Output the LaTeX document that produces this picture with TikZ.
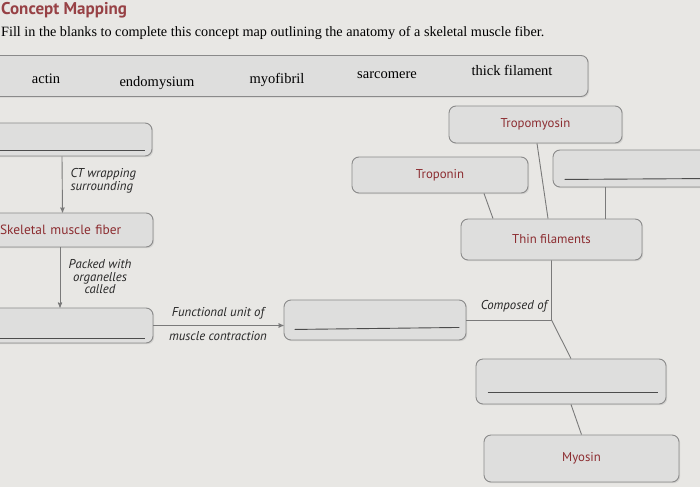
\documentclass[tikz,border=0pt]{standalone}
\usepackage{fontspec}
\setmainfont{Liberation Serif}
\setsansfont{PT Sans}
\usetikzlibrary{calc}
\usetikzlibrary{arrows}
\usetikzlibrary{shadows}

\definecolor{paper}{HTML}{E8E7E4}
\definecolor{boxfill}{HTML}{DEDEDD}
\definecolor{boxline}{HTML}{8A8A8A}
\definecolor{linkgray}{HTML}{7A7A7A}
\definecolor{labred}{HTML}{8C2C30}

\begin{document}
\begin{tikzpicture}[x=1pt,y=-1pt,
  mapbox/.style={draw=boxline, fill=boxfill, rounded corners=7pt, line width=0.9pt,
    drop shadow={opacity=.2, shadow xshift=1.2pt, shadow yshift=-1.2pt}},
  boxlabel/.style={font=\sffamily\fontsize{12.8}{14}\selectfont, text=labred},
  linklabel/.style={font=\sffamily\itshape\fontsize{12.8}{13.5}\selectfont, text=black!85},
  link/.style={draw=linkgray, line width=0.9pt},
  blankline/.style={draw=black!70, line width=0.9pt}]
\fill[paper] (0,0) rectangle (700,487);
\useasboundingbox (0,0) rectangle (700,487);

% heading
\node[anchor=west, inner xsep=0, font=\sffamily\bfseries\fontsize{17}{19}\selectfont, text=labred!90] (title) at (1,10) {Concept Mapping};
\node[anchor=west, inner xsep=0, font=\fontsize{14.2}{16}\selectfont] (task) at (1,33) {Fill in the blanks to complete this concept map outlining the anatomy of a skeletal muscle fiber.};

% word bank
\node[mapbox, minimum width=598, minimum height=41] (bank) at (289,76) {};
\foreach \w/\x/\y [count=\i] in {actin/46/79, endomysium/157/83, myofibril/277/80, sarcomere/387/75, thick filament/512/70}
  \node[font=\fontsize{14.5}{16}\selectfont] (word\i) at (\x,\y) {\w};

% left column
\node[mapbox, minimum width=162, minimum height=33] (blankA) at (71,139.5) {};
\draw[blankline] ([xshift=10,yshift=6]blankA.south west) -- ([xshift=-7,yshift=6]blankA.south east);
\node[mapbox, boxlabel, font=\sffamily\fontsize{13.4}{15}\selectfont, minimum width=163, minimum height=34, text width=143, inner xsep=10, align=left] (fiber) at (71.5,230) {Skeletal muscle fiber};
\node[mapbox, minimum width=163, minimum height=35] (blankC) at (71.5,325.5) {};
\draw[blankline] ([xshift=10,yshift=5]blankC.south west) -- ([xshift=-8,yshift=5]blankC.south east);

\draw[link, ->, >=stealth'] ([xshift=-9]blankA.south) -- ([xshift=-9]fiber.north);
\node[linklabel, anchor=north west, align=left] (wraplab) at (67,165) {CT wrapping\\[-1pt]surrounding};
\draw[link, ->, >=stealth'] ([xshift=-11.5]fiber.south) -- ([xshift=-11.5]blankC.north);
\node[linklabel, align=center] (packlab) at (100,277) {Packed with\\[-1pt]organelles\\[-1pt]called};

% sarcomere row
\node[mapbox, minimum width=182, minimum height=40] (blankD) at (375,320) {};
\draw[blankline] ([xshift=11,yshift=11]blankD.south west) -- ([xshift=-7,yshift=13]blankD.south east);
\draw[link, ->, >=stealth'] (blankC.east) -- (blankC.east -| blankD.west);
\node[linklabel] (unitlab) at (218,313) {Functional unit of};
\node[linklabel] (contrlab) at (218,336) {muscle contraction};

% right column
\node[mapbox, boxlabel, minimum width=173, minimum height=37] (tropo) at (535.5,124.5) {Tropomyosin};
\node[mapbox, boxlabel, minimum width=176, minimum height=36] (tropn) at (440,175) {Troponin};
\node[mapbox, minimum width=167, minimum height=37] (blankF) at (636.5,168.5) {};
\draw[blankline] ([xshift=12,yshift=8]blankF.south west) -- ([yshift=9]blankF.south east);
\node[mapbox, boxlabel, minimum width=181, minimum height=41] (thin) at (551.5,239.5) {Thin filaments};
\node[mapbox, minimum width=190, minimum height=45] (blankE) at (571,381.5) {};
\draw[blankline] ([xshift=12,yshift=12]blankE.south west) -- ([xshift=-8,yshift=12]blankE.south east);
\node[mapbox, boxlabel, minimum width=195, minimum height=47] (myosin) at (581.5,458.5) {Myosin};

\draw[link] ([xshift=44]tropn.south) -- ([xshift=-58.5]thin.north);
\draw[link] ([xshift=1.5]tropo.south) -- ([xshift=-3.5]thin.north);
\draw[link] ([xshift=-31.5]blankF.south) -- ([xshift=53.5]thin.north);

\coordinate (jc) at (blankD.east -| thin.south);
\draw[link] (blankD.east) -- (jc);
\draw[link] (thin.south) -- (jc) -- (blankE.north);
\node[linklabel, anchor=south] (complab) at (514,316) {Composed of};
\draw[link] (blankE.south) -- (myosin.north);

\end{tikzpicture}
\end{document}
